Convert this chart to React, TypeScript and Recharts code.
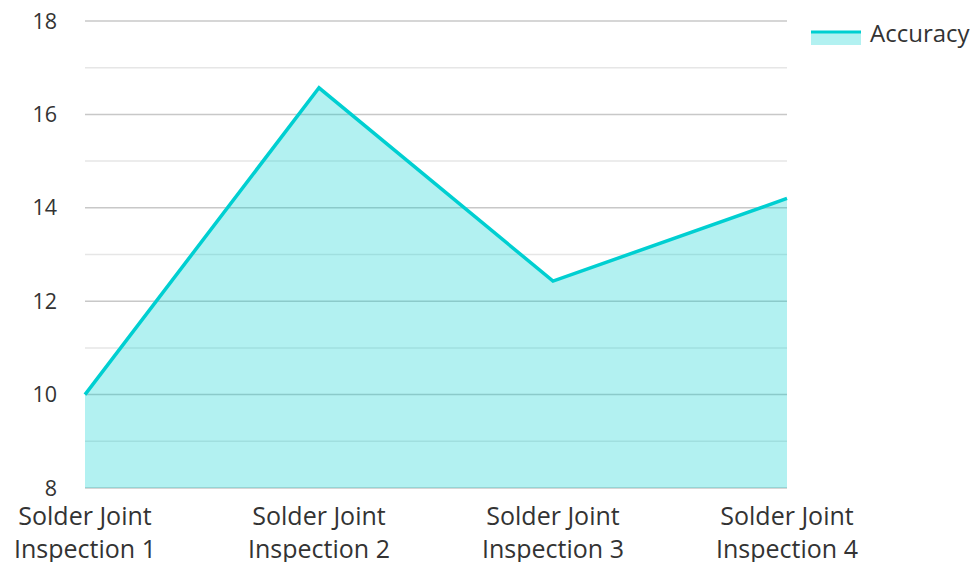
import { AreaChart, Area, XAxis, YAxis, CartesianGrid } from "recharts";

const categories = [
    "Solder Joint Inspection 1",
    "Solder Joint Inspection 2",
    "Solder Joint Inspection 3",
    "Solder Joint Inspection 4",
];
const accuracy = [10, 16.57, 12.43, 14.2];
const yTicks = [8, 9, 10, 11, 12, 13, 14, 15, 16, 17, 18];

const data = categories.map((name, i) => ({ name, accuracy: accuracy[i] }));

const LINE = "#00cfd1";
const FONT = "'Open Sans', sans-serif";

const XTick = (props: any) => {
    const { x, y, payload } = props;
    const words = String(payload.value).split(" ");
    const first = words.slice(0, 2).join(" ");
    const second = words.slice(2).join(" ");
    return (
        <text x={x} y={y} textAnchor="middle" fill="#333" fontSize={25} fontFamily={FONT}>
            <tspan x={x} dy={29}>{first}</tspan>
            <tspan x={x} dy={33}>{second}</tspan>
        </text>
    );
};

const gridLine = (props: any) => {
    const major = props.index % 2 === 0;
    return (
        <line
            key={props.key}
            x1={props.x1}
            x2={props.x2}
            y1={props.y1}
            y2={props.y2}
            stroke={major ? "#c8c8c8" : "#e6e6e6"}
            strokeWidth={1.5}
        />
    );
};

const Legend = () => (
    <g>
        <rect x={811} y={33} width={50} height={12} fill={LINE} fillOpacity={0.3} />
        <line x1={811} x2={861} y1={32} y2={32} stroke={LINE} strokeWidth={3} />
        <text x={870} y={42} fill="#333" fontSize={24} fontFamily={FONT}>
            Accuracy
        </text>
    </g>
);

export default function App() {
    return (
        <div style={{ position: "absolute", left: 0, top: 0 }}>
            <AreaChart
                width={976}
                height={562}
                data={data}
                margin={{ top: 21, right: 189, bottom: 0, left: 0 }}
            >
                <CartesianGrid vertical={false} horizontal={gridLine} />
                <XAxis
                    dataKey="name"
                    padding={{ left: 0, right: 0 }}
                    axisLine={false}
                    tickLine={false}
                    height={74}
                    interval={0}
                    tick={<XTick />}
                />
                <YAxis
                    domain={[8, 18]}
                    ticks={yTicks}
                    interval={0}
                    width={85}
                    axisLine={false}
                    tickLine={false}
                    tickSize={0}
                    tickMargin={28}
                    tickFormatter={(v: number) => (v % 2 === 0 ? String(v) : "")}
                    tick={{ fill: "#333", fontSize: 21.5, fontFamily: FONT }}
                />
                <Area
                    type="linear"
                    dataKey="accuracy"
                    stroke={LINE}
                    strokeWidth={3.5}
                    fill={LINE}
                    fillOpacity={0.3}
                    isAnimationActive={false}
                    dot={false}
                    activeDot={false}
                />
                <Legend />
            </AreaChart>
        </div>
    );
}
